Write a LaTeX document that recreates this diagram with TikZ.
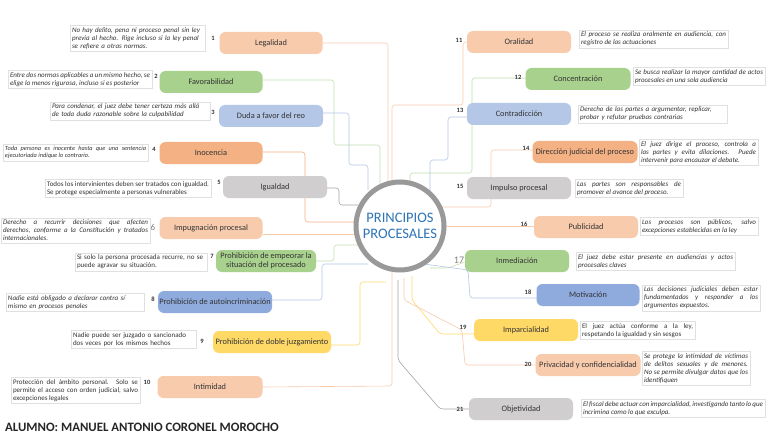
\documentclass[tikz,border=0pt]{standalone}
\usepackage{fontspec}
\setmainfont{Carlito}
\hyphenpenalty=10000
\exhyphenpenalty=10000
\begin{document}
\begin{tikzpicture}[x=1pt,y=-1pt,
  pb/.style={rounded corners=6pt,minimum height=22pt,inner sep=1pt,align=center,font=\fontsize{8.3}{9.3}\selectfont,text=black!80},
  ds/.style={draw=black!12,fill=white,inner sep=2pt,align=justify,font=\fontsize{7}{8}\selectfont\itshape,text=black!80},
  du/.style={ds,font=\fontsize{7}{8}\selectfont},
  nm/.style={font=\fontsize{6.5}{7}\selectfont\bfseries,text=black!80,inner sep=0pt},
  cn/.style={line width=0.6pt,rounded corners=3pt}]
\definecolor{peach}{HTML}{F8CBAD}
\definecolor{orng}{HTML}{F4B183}
\definecolor{grn}{HTML}{A9D18E}
\definecolor{blu}{HTML}{8FAADC}
\definecolor{lblu}{HTML}{B4C7E7}
\definecolor{gry}{HTML}{D0CECE}
\definecolor{yel}{HTML}{FFD966}
\definecolor{ttl}{HTML}{2E75B6}
\useasboundingbox (0,0) rectangle (768,433);
\fill[white] (0,0) rectangle (768,433);
% connectors
\begin{scope}[cn]
\coordinate (k1) at (388,182);
\draw[peach] (323,43) -- (388,43) -- (k1);
\coordinate (k2) at (380,184);
\draw[grn!70] (263,80) -- (334,80) -- (334,145) -- (380,145) -- (k2);
\coordinate (k3) at (368,190);
\draw[lblu] (323,113) -- (349,113) -- (349,165) -- (368,165) -- (k3);
\coordinate (k4) at (356,222);
\draw[orng] (263,152) -- (305,152) -- (305,222) -- (k4);
\coordinate (k5) at (358,205);
\draw[gry!80!black] (327,188) -- (339,188) -- (339,205) -- (k5);
\coordinate (k6) at (356,234);
\draw[peach] (263,234) -- (k6);
\coordinate (k7) at (360,245);
\draw[grn!70] (316,261) -- (334,261) -- (334,245) -- (k7);
\coordinate (k8) at (368,264);
\draw[lblu] (272,300) -- (322,300) -- (322,264) -- (k8);
\coordinate (k9) at (386,282);
\draw[yel] (331,345) -- (360,345) -- (360,282) -- (k9);
\coordinate (k10) at (392,386);
\draw[peach] (262,387) -- (k10) -- (392,270);
\coordinate (k11) at (392,182);
\draw[peach] (467,42) -- (463,42) -- (463,105) -- (392,105) -- (k11);
\coordinate (k12) at (410,182);
\draw[grn!70] (526,78) -- (472,78) -- (472,173) -- (410,173) -- (k12);
\coordinate (k13) at (430,192);
\draw[lblu] (467,117) -- (448,117) -- (448,160) -- (430,160) -- (k13);
\coordinate (k14) at (440,207);
\draw[peach] (533,150) -- (491,150) -- (491,207) -- (k14);
\coordinate (k16) at (446,226);
\draw[peach] (534,226) -- (k16);
\coordinate (k17) at (430,268);
\draw[grn!70] (465,262) -- (448,268) -- (k17);
\coordinate (k18) at (424,264);
\draw[lblu] (537,298) -- (470,298) -- (468,270) -- (k18);
\coordinate (k19) at (412,276);
\draw[yel] (474,334) -- (440,334) -- (412,300) -- (k19);
\coordinate (k20) at (404,278);
\draw[peach] (536,365) -- (465,365) -- (462,330) -- (404,300) -- (k20);
\coordinate (k21) at (398,280);
\draw[gry!80!black] (469,409) -- (440,409) -- (398,360) -- (k21);
\end{scope}
% centre
\node[circle,draw=black!40,line width=5pt,fill=white,minimum size=88pt,inner sep=0pt,align=center,font=\fontsize{14.5}{15.5}\selectfont,text=ttl] (c) at (400,226) {PRINCIPIOS\\PROCESALES};
% left boxes
\node[pb,fill=peach,minimum width=103pt] (b1) at (271,43) {Legalidad};
\node[pb,fill=grn,minimum width=103pt] (b2) at (211,82) {Favorabilidad};
\node[pb,fill=lblu,minimum width=104pt] (b3) at (271,116) {Duda a favor del reo};
\node[pb,fill=orng,minimum width=103pt] (b4) at (211,153) {Inocencia};
\node[pb,fill=gry,minimum width=104pt] (b5) at (275,187) {Igualdad};
\node[pb,fill=peach,minimum width=103pt] (b6) at (211,228) {Impugnación procesal};
\node[pb,fill=grn,minimum width=100pt] (b7) at (266,261) {Prohibición de empeorar la\\situación del procesado};
\node[pb,fill=blu,minimum width=114pt] (b8) at (215,302) {Prohibición de autoincriminación};
\node[pb,fill=yel,minimum width=118pt] (b9) at (272,342) {Prohibición de doble juzgamiento};
\node[pb,fill=peach,minimum width=105pt] (b10) at (210,387) {Intimidad};
% right boxes
\node[pb,fill=peach,minimum width=104pt] (b11) at (519,42) {Oralidad};
\node[pb,fill=grn,minimum width=105pt] (b12) at (578,79) {Concentración};
\node[pb,fill=lblu,minimum width=104pt] (b13) at (519,114) {Contradicción};
\node[pb,fill=orng,minimum width=105pt] (b14) at (585,152) {Dirección judicial del proceso};
\node[pb,fill=gry,minimum width=104pt] (b15) at (519,188) {Impulso procesal};
\node[pb,fill=peach,minimum width=104pt] (b16) at (586,227) {Publicidad};
\node[pb,fill=grn,minimum width=104pt] (b17) at (517,261) {Inmediación};
\node[pb,fill=blu,minimum width=103pt] (b18) at (588,295) {Motivación};
\node[pb,fill=yel,minimum width=104pt] (b19) at (526,330) {Imparcialidad};
\node[pb,fill=peach,minimum width=105pt] (b20) at (588,365) {Privacidad y confidencialidad};
\node[pb,fill=gry,minimum width=104pt] (b21) at (521,409) {Objetividad};
% numbers
\node[nm] (n1) at (213,38) {1};
\node[nm] (n2) at (156,76) {2};
\node[nm] (n3) at (213,112) {3};
\node[nm] (n4) at (154,149) {4};
\node[nm] (n5) at (219,182) {5};
\node[nm,font=\fontsize{9}{9}\selectfont,text=black!50] (n6) at (153,227) {6};
\node[nm] (n7) at (212,256) {7};
\node[nm] (n8) at (153,299) {8};
\node[nm] (n9) at (202,341) {9};
\node[nm] (n10) at (147,382) {10};
\node[nm] (n11) at (459,40) {11};
\node[nm] (n12) at (518,77) {12};
\node[nm] (n13) at (460,110) {13};
\node[nm] (n14) at (526,148) {14};
\node[nm] (n15) at (460,186) {15};
\node[nm] (n16) at (524,224) {16};
\node[nm,font=\fontsize{10}{10}\selectfont,text=black!50] (n17) at (459,260) {17};
\node[nm] (n18) at (528,292) {18};
\node[nm] (n19) at (463,327) {19};
\node[nm] (n20) at (528,364) {20};
\node[nm] (n21) at (460,409) {21};
% left descriptions
\node[ds,text width=131pt,align=left] (d1) at (137.5,38.5) {No hay delito, pena ni proceso penal sin ley previa al hecho. Rige incluso si la ley penal se refiere a otras normas.};
\node[ds,text width=140pt] (d2) at (80,79.5) {Entre dos normas aplicables a un mismo hecho, se elige la menos rigurosa, incluso si es posterior};
\node[ds,text width=156pt,align=left] (d3) at (130,111) {Para condenar, el juez debe tener certeza más allá de toda duda razonable sobre la culpabilidad};
\node[ds,text width=141pt,font=\fontsize{6.3}{7.3}\selectfont\itshape] (d4) at (75.5,152.5) {Toda persona es inocente hasta que una sentencia ejecutoriada indique lo contrario.};
\node[du,text width=162pt] (d5) at (128,188.5) {Todos los intervinientes deben ser tratados con igualdad. Se protege especialmente a personas vulnerables};
\node[ds,text width=145pt] (d6) at (75.5,230.5) {Derecho a recurrir decisiones que afecten derechos, conforme a la Constitución y tratados internacionales.};
\node[du,text width=128pt,align=left] (d7) at (141,262) {Si solo la persona procesada recurre, no se puede agravar su situación.};
\node[ds,text width=134pt,align=left] (d8) at (75,302.5) {Nadie está obligado a declarar contra sí mismo en procesos penales};
\node[du,text width=121pt,align=left] (d9) at (133.5,339.5) {Nadie puede ser juzgado o sancionado dos veces por los mismos hechos};
\node[du,text width=125pt] (d10) at (75.5,390.5) {Protección del ámbito personal. Solo se permite el acceso con orden judicial, salvo excepciones legales};
% right descriptions
\node[ds,text width=145pt] (d11) at (653.5,39) {El proceso se realiza oralmente en audiencia, con registro de las actuaciones};
\node[ds,text width=128pt] (d12) at (699,76.5) {Se busca realizar la mayor cantidad de actos procesales en una sola audiencia};
\node[ds,text width=145pt,align=left] (d13) at (652.5,114) {Derecho de las partes a argumentar, replicar, probar y refutar pruebas contrarias};
\node[ds,text width=115pt] (d14) at (698.5,152.5) {El juez dirige el proceso, controla a las partes y evita dilaciones. Puede intervenir para encauzar el debate.};
\node[ds,text width=104pt] (d15) at (629,188.5) {Las partes son responsables de promover el avance del proceso.};
\node[ds,text width=114pt] (d16) at (699,226.5) {Los procesos son públicos, salvo excepciones establecidas en la ley};
\node[ds,text width=155pt] (d17) at (655.5,261.5) {El juez debe estar presente en audiencias y actos procesales claves};
\node[ds,text width=114pt] (d18) at (701,298) {Las decisiones judiciales deben estar fundamentadas y responder a los argumentos expuestos.};
\node[du,text width=111pt] (d19) at (637.5,330.5) {El juez actúa conforme a la ley, respetando la igualdad y sin sesgos};
\node[ds,text width=104pt] (d20) at (696,368.5) {Se protege la intimidad de víctimas de delitos sexuales y de menores. No se permite divulgar datos que los identifiquen};
\node[ds,text width=180pt] (d21) at (673,408.5) {El fiscal debe actuar con imparcialidad, investigando tanto lo que incrimina como lo que exculpa.};
% title
\node[anchor=west,inner sep=0pt,font=\fontsize{12.8}{13}\selectfont\bfseries,text=black!85] (t) at (5,427) {ALUMNO: MANUEL ANTONIO CORONEL MOROCHO};
\end{tikzpicture}
\end{document}
